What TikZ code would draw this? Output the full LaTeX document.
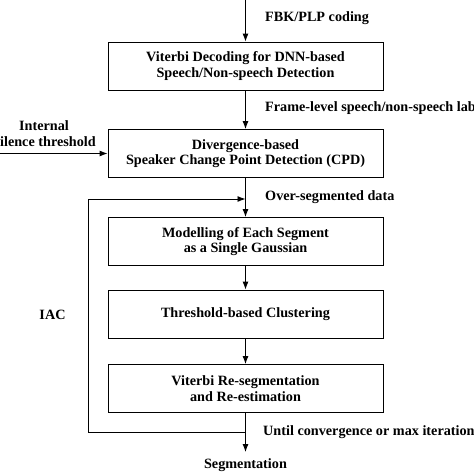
\documentclass[tikz,border=0pt]{standalone}
\usepackage{fontspec}
\setmainfont{Liberation Serif}
\usetikzlibrary{arrows.meta,positioning}

\begin{document}
\begin{tikzpicture}[x=1pt,y=-1pt]
                \tikzstyle{block} = [draw, line width=0.9pt, minimum width=275pt, minimum height=48pt, align=center, inner sep=2pt, font=\bfseries\fontsize{14.2}{15.5}\selectfont];
                \tikzstyle{lbl} = [inner sep=0pt, font=\bfseries\fontsize{14.2}{16.5}\selectfont];
                \tikzstyle{flow} = [-{Latex[length=8pt,width=6pt]}, line width=0.9pt];
                \useasboundingbox (0,0) rectangle (474,474);

                \node[block](VAD) at (245.5,66) {Viterbi Decoding for DNN-based\\Speech/Non-speech Detection};
                \node[block](CPD) at (245.5,153.5) {Divergence-based\\Speaker Change Point Detection (CPD)};
                \node[block](GAUSS) at (245.5,241.5) {Modelling of Each Segment\\as a Single Gaussian};
                \node[block](CLUST) at (245.5,314) {Threshold-based Clustering};
                \node[block](RESEG) at (245.5,388.5) {Viterbi Re-segmentation\\and Re-estimation};

                \coordinate (IN) at (245.5,0);
                \coordinate (SIL) at (0,153.5);
                \coordinate (MERGE) at (245.5,199);
                \coordinate (SPLIT) at (245.5,432);
                \coordinate (OUT) at (245.5,452);

                \node[lbl, anchor=west](FBK) at (265,18) {FBK/PLP coding};
                \node[lbl, anchor=west](FRAME) at (265,108) {Frame-level speech/non-speech labels};
                \node[lbl, align=center](THR) at (44,133.5) {Internal\\Silence threshold};
                \node[lbl, anchor=west](OVER) at (265,197) {Over-segmented data};
                \node[lbl](IAC) at (52.5,315) {IAC};
                \node[lbl, anchor=west](CONV) at (263,432) {Until convergence or max iterations};
                \node[lbl](SEG) at (245.5,465) {Segmentation};

                \path[every edge/.style={draw, flow}]
                    (IN) edge (VAD.north)
                    (VAD) edge (CPD)
                    (SIL) edge (CPD.west)
                    (CPD) edge (GAUSS)
                    (GAUSS) edge (CLUST)
                    (CLUST) edge (RESEG)
                    (RESEG.south) edge (OUT)
                ;
                \draw[flow] (SPLIT) -- ++(-157.5,0) |- (MERGE);
            \end{tikzpicture}
\end{document}
